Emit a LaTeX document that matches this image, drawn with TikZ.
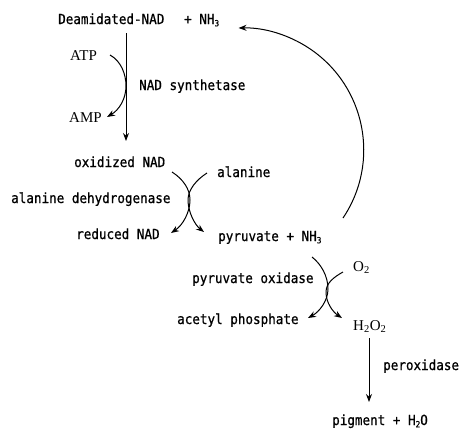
\documentclass[tikz,border=0pt]{standalone}
\usepackage{fontspec}
\usetikzlibrary{arrows.meta}
\newfontfamily\monof[FakeStretch=0.9,FakeBold=0.7]{DejaVu Sans Mono}
\newfontfamily\seriff{Liberation Serif}
\newcommand\mysub[1]{\raisebox{-0.3ex}{\fontsize{8.5}{9}\selectfont #1}}
\tikzset{
  lbl/.style={inner sep=0pt, text height=10pt, text depth=0pt, anchor=west},
  mono/.style={lbl, font=\monof\fontsize{14}{16}\selectfont},
  ser/.style={lbl, font=\seriff\fontsize{15}{17}\selectfont},
  arr/.style={line width=1pt, -{Stealth[length=8pt,width=6pt]}},
}
\begin{document}
\begin{tikzpicture}[x=1pt,y=-1pt]
\path[fill=white,use as bounding box] (0,0) rectangle (474,432);

\node[mono] (deam) at (58,19) {Deamidated-NAD};
\node[mono] (nh3a) at (184,19) {+ NH\mysub{3}};
\node[ser] (atp) at (70,55) {ATP};
\node[ser] (amp) at (69,117) {AMP};
\node[mono] (nads) at (139,85) {NAD synthetase};
\node[mono] (oxnad) at (74,162) {oxidized NAD};
\node[mono] (ala) at (217,172) {alanine};
\node[mono] (aladh) at (11,198) {alanine dehydrogenase};
\node[mono] (rednad) at (76,234) {reduced NAD};
\node[mono] (pyr) at (218,236) {pyruvate + NH\mysub{3}};
\node[mono] (pox) at (192,278) {pyruvate oxidase};
\node[ser] (o2) at (353,266) {O\textsubscript{2}};
\node[mono] (acp) at (177,319) {acetyl phosphate};
\node[ser] (h2o2) at (353,325) {H\textsubscript{2}O\textsubscript{2}};
\node[mono] (perox) at (383,365) {peroxidase};
\node[mono] (pig) at (332,420) {pigment + H\mysub{2}O};

% coordinates for connector ends
\coordinate (v1s) at (126,33);
\coordinate (v1e) at (126,141);
\coordinate (atpE) at (110,55);
\coordinate (ampE) at (107,117);
\coordinate (oxE) at (172,172);
\coordinate (alaW) at (207,173);
\coordinate (redE) at (171,233);
\coordinate (pyrW) at (204,232);
\coordinate (pyrS) at (312,257);
\coordinate (o2W) at (343,272);
\coordinate (acpE) at (308,318);
\coordinate (h2W) at (342,318);
\coordinate (v2s) at (369,338);
\coordinate (v2e) at (369,402);
\coordinate (arcS) at (343,218);

% NAD synthetase
\draw[arr] (v1s) -- (v1e);
\draw[arr] (atpE) .. controls (121,61) and (126,74) .. (126,86)
  .. controls (126,99) and (119,110) .. (ampE);

% alanine dehydrogenase
\draw[arr] (oxE) .. controls (183,179) and (190,189) .. (190,200)
  .. controls (190,212) and (183,225) .. (redE);
\draw[arr] (alaW) .. controls (196,180) and (188,190) .. (188,200)
  .. controls (188,212) and (195,225) .. (pyrW);

% pyruvate oxidase
\draw[arr] (pyrS) .. controls (321,264) and (328,276) .. (328,289)
  .. controls (328,301) and (319,312) .. (acpE);
\draw[arr] (o2W) .. controls (334,277) and (326,283) .. (326,292)
  .. controls (326,303) and (333,312) .. (h2W);

% peroxidase
\draw[arr] (v2s) -- (v2e);

% recycle arc
\draw[arr] (arcS) arc[start angle=33.9, end angle=-91.5, radius=122];
\end{tikzpicture}
\end{document}
